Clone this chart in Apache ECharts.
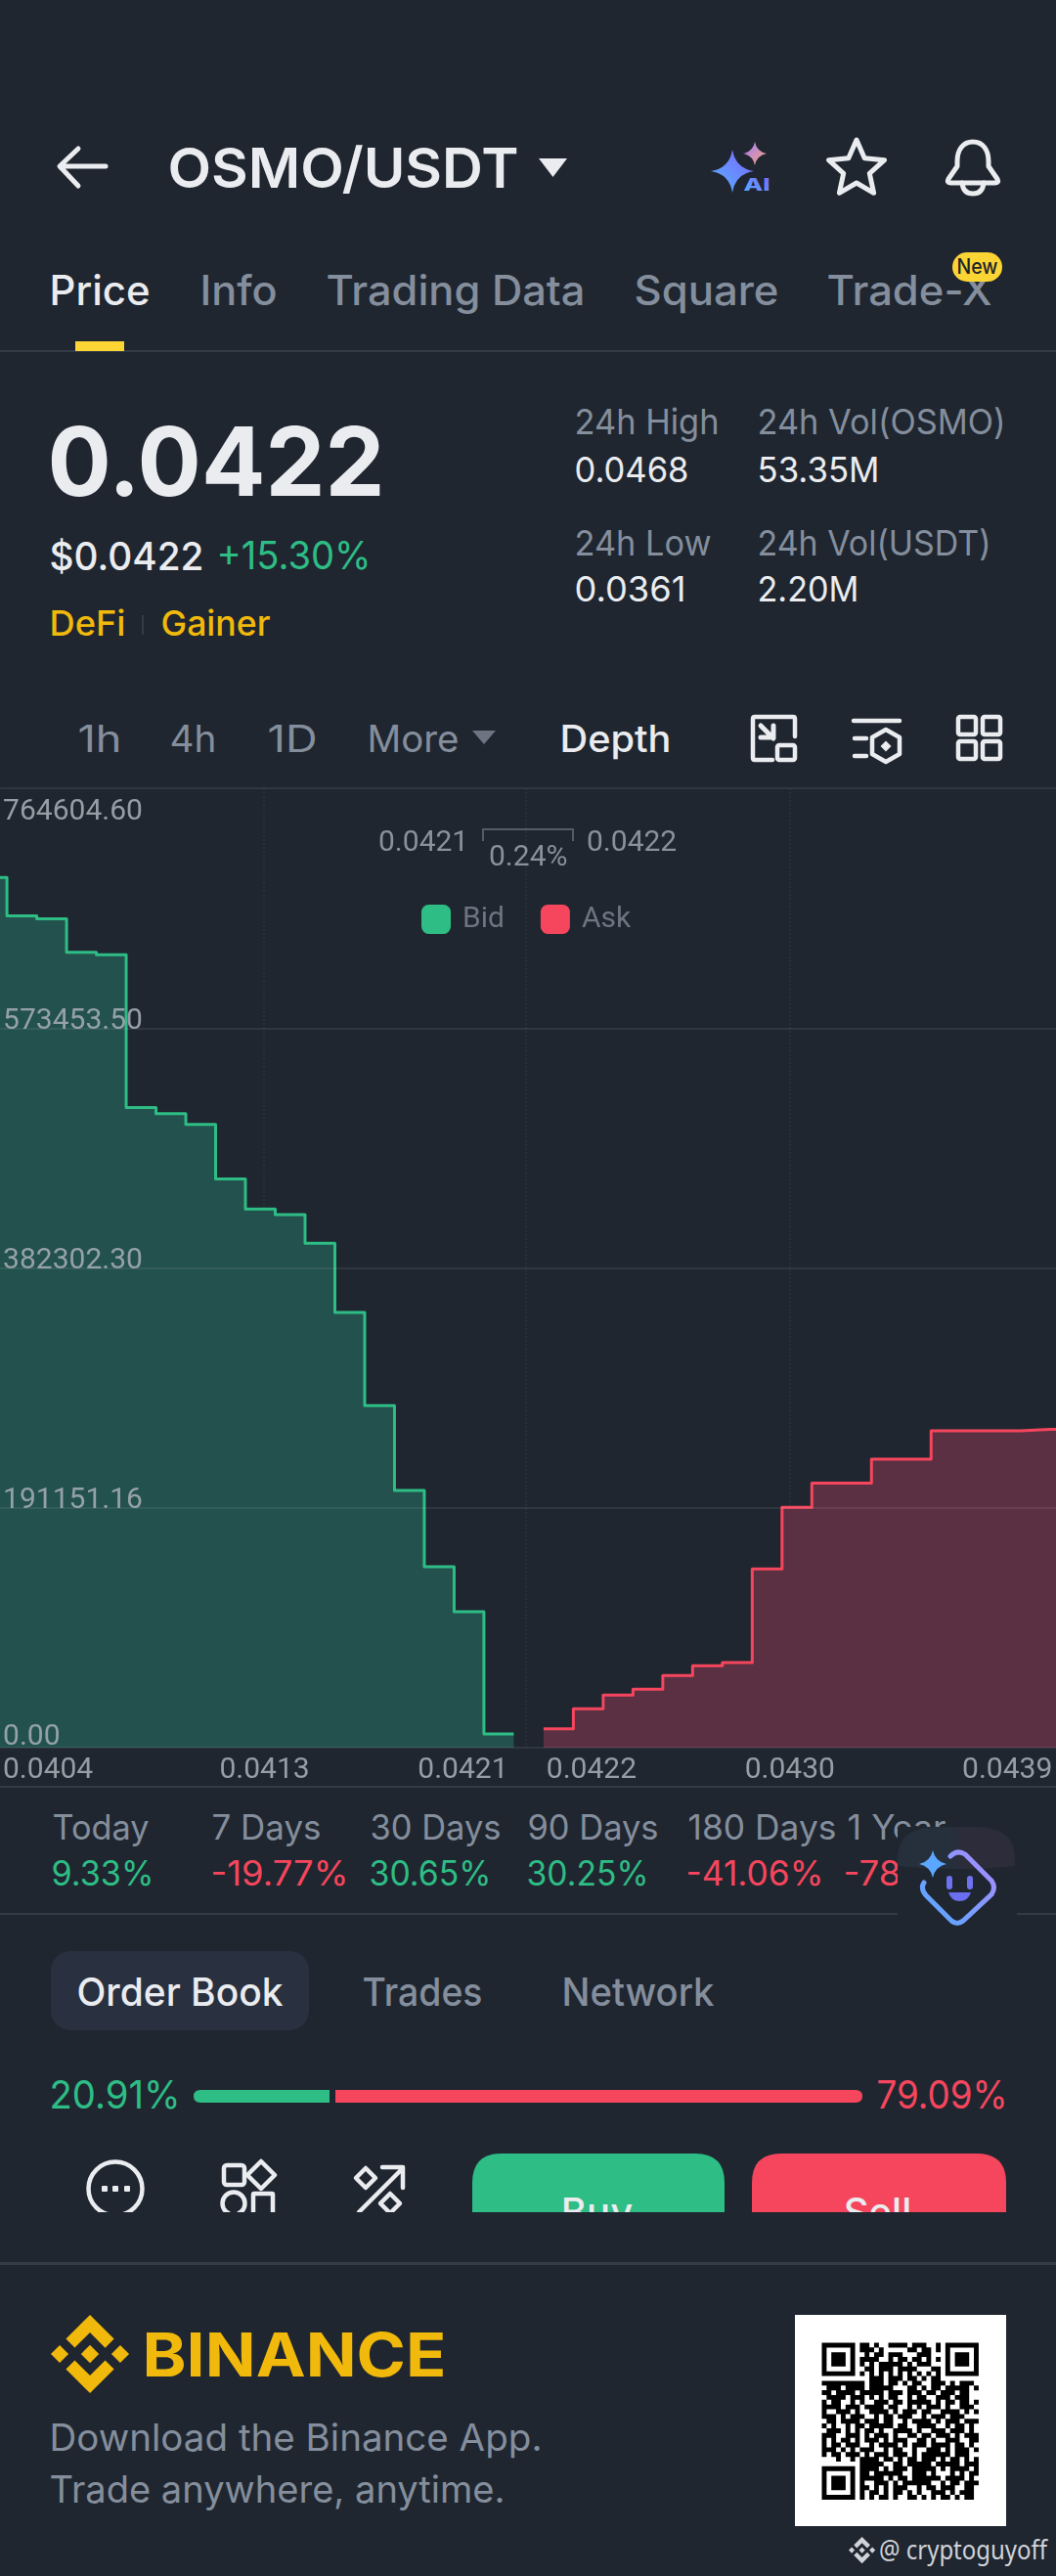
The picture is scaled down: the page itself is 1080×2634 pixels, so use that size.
<!DOCTYPE html>
<html><head><meta charset="utf-8">
<script src="https://cdn.jsdelivr.net/npm/echarts@6/dist/echarts.min.js"></script>
<style>
html,body{margin:0;padding:0;background:#1f2630;width:1080px;height:2634px;overflow:hidden}
#ui{position:absolute;left:0;top:0}
#chart{position:absolute;left:0;top:780px;width:1080px;height:1050px}
</style></head><body>
<svg id="ui" width="1080" height="2634" viewBox="0 0 1080 2634" xmlns="http://www.w3.org/2000/svg"></svg>
<div id="chart"></div>
<script>
// ---------- depth chart data ----------
const bidPrices = [0.0403,0.0404,0.0405,0.0406,0.0407,0.0408,0.0409,0.0410,0.0411,0.0412,0.0413,0.0414,0.0415,0.0416,0.0417,0.0418,0.0419,0.0420,0.0421];
const bidDepth  = [693500,662900,660500,633800,631900,510200,505300,496700,453300,429200,424700,401900,346800,272600,204900,144100,108300,10900,10900];
const askPrices = [0.0422,0.0423,0.0424,0.0425,0.0426,0.0427,0.0428,0.0429,0.0430,0.0431,0.0432,0.0433,0.0434,0.0435,0.0436,0.0437,0.0438,0.0439,0.0440];
const askDepth  = [15000,30900,41800,46500,57400,65200,67800,142500,191600,210800,210800,230000,230000,252600,252600,252600,253700,253700,253700];
const yTickLabels = ['0.00','191151.16','382302.30','573453.50','764604.60'];
const xTickValues = [0.0404,0.0413,0.0421,0.0422,0.0430,0.0439];
const xTickLabels = ['0.0404','0.0413','0.0421','0.0422','0.0430','0.0439'];
const xLabelShift = [42,-11,-52,49,8,-44];
const xGridValues = [0.041263,0.042141,0.043027];
const changeLabels = ['Today','7 Days','30 Days','90 Days','180 Days','1 Year'];
const changeValues = ['9.33%','-19.77%','30.65%','30.25%','-41.06%','-78'];

// ---------- chart ----------
const GREEN='#2ebd85', RED='#f6465d', AXIS='rgba(160,168,176,0.92)';
const rich={
  up:{fontFamily:'Roboto',fontSize:30,color:AXIS,padding:[0,0,14,0]},
  low:{fontFamily:'Roboto',fontSize:30,color:AXIS,padding:[0,0,21,0]},
  top:{fontFamily:'Roboto',fontSize:30,color:AXIS,padding:[48,0,0,0]}
};
xLabelShift.forEach((s,i)=>{rich['s'+i]={fontFamily:'Roboto',fontSize:30,color:AXIS,padding:s>=0?[0,0,0,2*s]:[0,-2*s,0,0]};});
const zip=(a,b)=>a.map((x,i)=>[x,b[i]]);
const chart=echarts.init(document.getElementById('chart'),null,{renderer:'canvas'});
chart.setOption({
  animation:false,
  backgroundColor:'transparent',
  legend:{left:431,top:145,itemWidth:30,itemHeight:30,itemGap:37,padding:0,
    data:[{name:'Bid',icon:'roundRect'},{name:'Ask',icon:'roundRect'}],
    textStyle:{fontFamily:'Roboto',fontSize:30,color:'#6e7582',padding:[0,0,0,7]}},
  grid:{left:0,right:0,top:26,bottom:43,containLabel:false},
  xAxis:{type:'value',min:0.040377,max:0.043919,
    axisLine:{show:false},axisTick:{show:false,customValues:xGridValues},
    splitLine:{show:true,lineStyle:{color:'rgba(255,255,255,0.045)',width:2,type:'dotted'}},
    axisLabel:{customValues:xTickValues,margin:8,hideOverlap:false,showMinLabel:true,showMaxLabel:true,
      formatter:(v)=>{const i=xTickValues.findIndex(t=>Math.abs(t-v)<1e-7);return '{s'+i+'|'+xTickLabels[i]+'}';},rich}},
  yAxis:{type:'value',min:0,max:764604.6,interval:191151.15,z:5,
    axisLine:{show:false},axisTick:{show:false},
    splitLine:{show:true,lineStyle:{color:'rgba(255,255,255,0.075)',width:2}},
    axisLabel:{inside:true,margin:3,align:'left',verticalAlign:'middle',
      formatter:(v,i)=>{const st=i===4?'top':(i===0?'low':'up');return '{'+st+'|'+yTickLabels[i]+'}';},rich}},
  series:[
    {name:'Bid',type:'line',step:'end',showSymbol:false,symbol:'none',data:zip(bidPrices,bidDepth),
      itemStyle:{color:GREEN},lineStyle:{color:GREEN,width:3,join:'round'},areaStyle:{color:'#23514d',opacity:1}},
    {name:'Ask',type:'line',step:'end',showSymbol:false,symbol:'none',data:zip(askPrices,askDepth),
      itemStyle:{color:RED},lineStyle:{color:RED,width:3,join:'round'},areaStyle:{color:'#5b3042',opacity:1}}
  ],
  graphic:[
    {type:'text',left:387,top:67,style:{text:'0.0421',font:'30px Roboto',fill:'#8b919b'}},
    {type:'text',left:600,top:67,style:{text:'0.0422',font:'30px Roboto',fill:'#8b919b'}},
    {type:'text',left:500,top:82,style:{text:'0.24%',font:'30px Roboto',fill:'#8b919b'}},
    {type:'polyline',shape:{points:[[494,80],[494,68],[586,68],[586,80]]},style:{stroke:'#555c68',lineWidth:2,fill:null}}
  ]
});

// ---------- app chrome ----------
const WHITE='#eaecef',GRAY='#848e9c',GOLD='#f0b90b';
let s='';
const t=(x,y,str,size,fill,w,weight,extra)=>{s+=`<text x="${x-1.5}" y="${y}" font-family="Inter" font-size="${size}" font-weight="${weight||400}" fill="${fill}"`+(w?` textLength="${w+3}" lengthAdjust="spacingAndGlyphs"`:'')+` ${extra||''}>${str}</text>`;};
const ln=(d,c,wd,extra)=>{s+=`<path d="${d}" fill="none" stroke="${c||WHITE}" stroke-width="${wd||4.5}" stroke-linecap="round" stroke-linejoin="round" ${extra||''}/>`;};
const fp=(d,c,extra)=>{s+=`<path d="${d}" fill="${c}" ${extra||''}/>`;};
const rc=(x,y,w,h,c,r)=>{s+=`<rect x="${x}" y="${y}" width="${w}" height="${h}" fill="${c}" rx="${r||0}"/>`;};
const sr=(x,y,w,h,r,c,wd)=>{s+=`<rect x="${x}" y="${y}" width="${w}" height="${h}" rx="${r}" fill="none" stroke="${c||WHITE}" stroke-width="${wd||4.5}"/>`;};
const star4=(cx,cy,r,k)=>`M${cx} ${cy-r}Q${cx+k} ${cy-k} ${cx+r} ${cy}Q${cx+k} ${cy+k} ${cx} ${cy+r}Q${cx-k} ${cy+k} ${cx-r} ${cy}Q${cx-k} ${cy-k} ${cx} ${cy-r}Z`;
const dia=(cx,cy,r)=>`M${cx} ${cy-r}L${cx+r} ${cy}L${cx} ${cy+r}L${cx-r} ${cy}Z`;

s+=`<defs>
<linearGradient id="g1" x1="0" y1="1" x2="1" y2="0"><stop offset="0" stop-color="#55b4ff"/><stop offset="1" stop-color="#7d63ff"/></linearGradient>
<linearGradient id="g2" x1="0" y1="0" x2="1" y2="1"><stop offset="0" stop-color="#9a7bff"/><stop offset="1" stop-color="#ffa27a"/></linearGradient>
<linearGradient id="g3" gradientUnits="userSpaceOnUse" x1="945" y1="1965" x2="1018" y2="1900"><stop offset="0" stop-color="#55a8ff"/><stop offset="1" stop-color="#a98cff"/></linearGradient>
<linearGradient id="g4" x1="0" y1="0" x2="1" y2="0"><stop offset="0" stop-color="#262f3c"/><stop offset="0.45" stop-color="#262f3c"/><stop offset="0.55" stop-color="#2c2c3a"/><stop offset="1" stop-color="#2c2c3a"/></linearGradient>
</defs>`;

// top bar
ln('M108 170H62M80 152L61 170L80 190',WHITE,5);
t(173,192,'OSMO/USDT',57,WHITE,356,600);
fp('M551 162H580L565.5 181Z',WHITE);
fp(star4(749,175,22,3),'url(#g1)');
fp(star4(772,157,12,2),'url(#g2)');
t(762,195,'AI',17,'url(#g1)',24,800);
(function(){const c=[876,173],R=30,r=14;let p=[];for(let i=0;i<10;i++){const a=-Math.PI/2+i*Math.PI/5,q=i%2?r:R;p.push((c[0]+q*Math.cos(a)).toFixed(1)+' '+(c[1]+q*Math.sin(a)).toFixed(1));}ln('M'+p.join('L')+'Z',WHITE,5);})();
ln('M972 187H1018Q1022 187 1020 183L1011 170V165C1011 153 1005 145 995 145C985 145 979 153 979 165V170L970 183Q968 187 972 187Z',WHITE,5);
ln('M984 187Q985 198 995 198Q1005 198 1006 187',WHITE,5);

// tabs
t(52,312,'Price',42,WHITE,100,500);
t(206,312,'Info',42,GRAY,76,500);
t(335,312,'Trading Data',42,GRAY,262,500);
t(650,312,'Square',42,GRAY,145,500);
t(847,312,'Trade-X',42,GRAY,166,500);
rc(0,358,1080,2,'#333b47');
rc(77,349,50,10,'#fcd535');
rc(974,258,51,30,'#fcd535',15);
t(980,280,'New',21,'#1e2329',39,500);

// price block
t(50,507,'0.0422',98,WHITE,342,700);
t(52,583,'$0.0422',40,WHITE,155,500);
t(223,582,'+15.30%',40,GREEN,155,400);
t(52,650,'DeFi',36,GOLD,75,500);
rc(145,629,2,20,'#333b47');
t(166,650,'Gainer',36,GOLD,109,500);
t(589,444,'24h High',36,GRAY,145);
t(776,444,'24h Vol(OSMO)',36,GRAY,251);
t(589,493,'0.0468',36,WHITE,114);
t(776,493,'53.35M',36,WHITE,122);
t(589,568,'24h Low',36,GRAY,137);
t(776,568,'24h Vol(USDT)',36,GRAY,236);
t(589,615,'0.0361',36,WHITE,111);
t(776,615,'2.20M',36,WHITE,101);

// intervals
t(81,769,'1h',38,GRAY,42);
t(175,769,'4h',38,GRAY,45);
t(275,769,'1D',38,GRAY,48);
t(377,769,'More',38,GRAY,91);
fp('M483 747H507L495 761Z','#6e7582');
t(574,769,'Depth',38,WHITE,111,500);
ln('M813 753V735Q813 733 811 733H772Q770 733 770 735V775Q770 777 772 777H790');
sr(795,762,18,15,2);
ln('M778 742L791 755M778 754H791V742',WHITE,5);
ln('M873 737H920');ln('M874 755H886');ln('M874 773H886');
ln('M906 746L920 754V771L906 779L892 771V754Z');
fp(dia(906,763,5.5),WHITE);
sr(980,733,18,18,2);sr(1005,733,18,18,2);sr(980,758,18,18,2);sr(1005,758,18,18,2);

// chart frame
rc(0,1826,1080,2,'#333b47');

// period changes
const chgX=[55,218,380,541,705,868],chgW=[96,109,131,131,149,98],valX=[54,217,379,540,703,864],valW=[102,138,122,122,138,56];
changeLabels.forEach((l,i)=>{t(chgX[i],1881,l,35,GRAY,chgW[i]);
  const v=changeValues[i];t(valX[i],1928,v,35,v[0]==='-'?RED:GREEN,valW[i]);});
rc(0,1956,1080,2,'#333b47');
rc(918,1868,122,102,'#1f2630');
s+=`<path d="M918 1908V1900Q918 1868 960 1868H996Q1038 1868 1038 1900V1908Q978 1914 918 1908Z" fill="url(#g4)"/>`;
// assistant badge
s+=`<path d="M972 1898Q979 1891 987 1896L1014 1923Q1019 1930 1014 1937L985 1964Q979 1969 973 1964L947 1938Q941 1931 945 1925" fill="none" stroke="url(#g3)" stroke-width="5" stroke-linecap="round"/>`;
fp(star4(954,1906,14,2.5),'#5ba6ff');
rc(968,1918,6,14,'#6f72f0',3);rc(989,1918,6,14,'#6f72f0',3);
fp('M970 1935H993Q990 1944 981.5 1944Q973 1944 970 1935Z','#6a6ef0');

// order book tabs
rc(52,1995,264,81,'#29303f',20);
t(80,2051,'Order Book',40,WHITE,208,500);
t(372,2051,'Trades',40,GRAY,120,500);
t(576,2051,'Network',40,GRAY,153,500);

// ratio
t(52,2156,'20.91%',40,GREEN,131);
s+=`<path d="M337 2137H205Q198 2137 198 2143.5Q198 2150 205 2150H337Z" fill="${GREEN}"/>`;
s+=`<path d="M343 2137H875Q882 2137 882 2143.5Q882 2150 875 2150H343Z" fill="${RED}"/>`;
t(898,2156,'79.09%',40,RED,131);

// action row
s+=`<circle cx="118" cy="2238" r="27.5" fill="none" stroke="${WHITE}" stroke-width="4.5"/>`;
rc(104,2235,6,6,WHITE,1);rc(115,2235,6,6,WHITE,1);rc(127,2235,6,6,WHITE,1);
sr(229,2214,21,20,3);ln(dia(267,2224,14));
s+=`<circle cx="239" cy="2253" r="11.5" fill="none" stroke="${WHITE}" stroke-width="4.5"/>`;sr(259,2243,20,30,1);
ln('M367 2262L411 2218M391 2216H412V2237');ln(dia(374,2227,10));ln(dia(399,2253,10));
s+=`<path d="M483 2280V2232Q483 2202 513 2202H711Q741 2202 741 2232V2280Z" fill="${GREEN}"/>`;
s+=`<path d="M769 2280V2232Q769 2202 799 2202H999Q1029 2202 1029 2232V2280Z" fill="${RED}"/>`;
t(612,2276,'Buy',40,WHITE,0,500,'text-anchor="middle"');
t(899,2276,'Sell',40,WHITE,0,500,'text-anchor="middle"');
rc(0,2262,1080,50,'#1f2630');
rc(0,2313,1080,3,'#333b47');

// footer
const LOGO='M38.73 53.2l24.59-24.58 24.6 24.6 14.3-14.31L63.32 0 24.43 38.9zM0 63.31l14.3-14.31 14.31 14.31-14.31 14.3zM38.73 73.41l24.59 24.59 24.6-24.6 14.31 14.29-.01.01-38.9 38.91-38.9-38.88-.02-.02zM98.01 63.31l14.3-14.31 14.31 14.3-14.31 14.32zM77.83 63.3L63.32 48.78 52.59 59.51l-1.24 1.23-2.54 2.54 14.51 14.5 14.51-14.52z';
fp(LOGO,GOLD,'transform="translate(52 2367) scale(0.632)"');
t(147,2430,'BINANCE',62,GOLD,308,700);
t(52,2506,'Download the Binance App.',38,GRAY,501);
t(52,2559,'Trade anywhere, anytime.',38,GRAY,463);
rc(813,2367,216,216,'#ffffff');
const qrRows=[
'#######.##.#..####.###..#.#######',
'#.....#.###.#.....##.##.#.#.....#',
'#.###.#..#.##.###...###...#.###.#',
'#.###.#.####..#.##.##.#.#.#.###.#',
'#.###.#.#.#.#####.#.###...#.###.#',
'#.....#..##.###.####...##.#.....#',
'#######.#.#.#.#.#.#.#.#.#.#######',
'..........###.###.##.#.##........',
'#########.###.##.#.##..###.#.###.',
'.###.####.#####...##.#.##.#####.#',
'##.####.#####.###.###.##.###.##..',
'.####.###.#.#.##..#.##..###.###..',
'#.##..#.#..###.##.#####.#.##.##.#',
'####.###.####.##..#.#.###.#..###.',
'#..###.#..####.#.###.##..####.#.#',
'###.#.###..#.##.###..#.###.###...',
'.##.####.###.##..#.####.#.###.###',
'#.#..#.##.#####.##..####..#.##.#.',
'.###.#.#.##.#..####.#..###.###.#.',
'###..###.#.###.#..##.##.###.#.###',
'#.#.##.#.###.#.###..##.#..###..##',
'#.##.###..#.####.#.###.####.##.#.',
'###.#.#.###..#.##..#..###.#.###.#',
'#.##.###.#.###.###.#.######.###..',
'...#..#.####.##.#.##.###.#.##.#.#',
'........#####..##.#####.#####.###',
'#######.####.#.###.#####.#.####.#',
'#.....#.##.######..###.#...#.#.##',
'#.###.#.#####.#.##.######.####.#.',
'#.###.#.#..###.#.######..#.##.###',
'#.###.#.##.#.#.###..#.##.###..##.',
'#.....#.#.##.#.##.#.#..###.#.###.',
'#######.#.#.##.#..##.#.#.##.#.##.'];
let qd='';qrRows.forEach((r,y)=>{[...r].forEach((c,x)=>{if(c==='#')qd+=`M${840.5+x*4.86} ${2395.5+y*4.86}h4.9v4.9h-4.9z`;});});
fp(qd,'#000000');
fp(LOGO,'#d0d3d8','transform="translate(868 2594) scale(0.215)"');
s+=`<text x="899" y="2617" font-family="Noto Sans" font-size="27" fill="#d0d3d8" textLength="172" lengthAdjust="spacingAndGlyphs">@ cryptoguyoff</text>`;
document.getElementById('ui').innerHTML=s;
</script>
</body></html>
